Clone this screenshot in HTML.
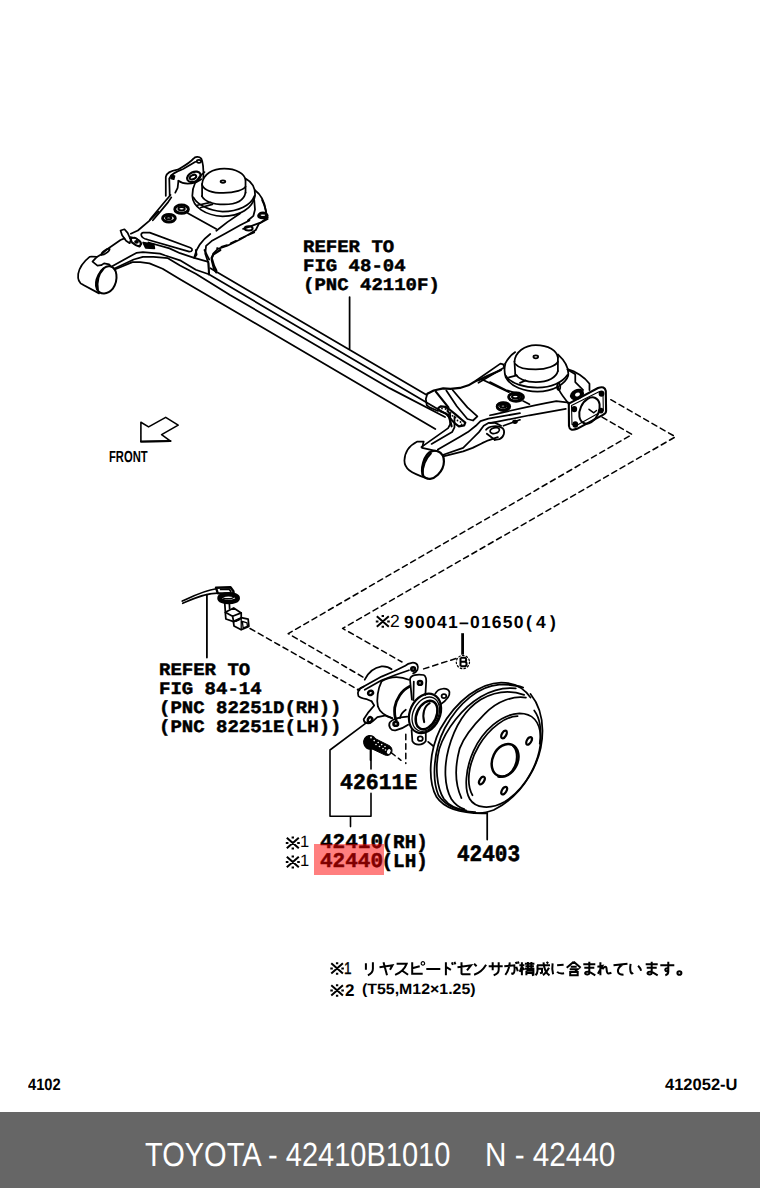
<!DOCTYPE html>
<html><head><meta charset="utf-8">
<style>
html,body{margin:0;padding:0;background:#fff;text-rendering:geometricPrecision;}
body{width:760px;height:1188px;position:relative;overflow:hidden;}
.t{position:absolute;white-space:pre;color:#000;line-height:1;}
.m{font-family:"Liberation Mono",monospace;font-weight:bold;font-size:19px;letter-spacing:0;-webkit-text-stroke:0.5px #000;transform:scaleY(0.88);transform-origin:0 0;}
.s{font-family:"Liberation Sans",sans-serif;}
#bar{position:absolute;left:0;top:1112px;width:760px;height:76px;background:#666666;}
#bar span{position:absolute;top:0;white-space:pre;color:#fff;font-family:"Liberation Sans",sans-serif;font-size:33.5px;line-height:76px;transform-origin:0 0;}
#b1{left:145px;top:5.5px!important;transform:scaleX(0.866);}
#b2{left:485px;top:5.5px!important;transform:scaleX(0.886);}
svg{position:absolute;left:0;top:0;}
svg path,svg ellipse,svg line,svg polyline,svg circle{vector-effect:non-scaling-stroke;}
</style></head><body>

<svg width="760" height="1188" viewBox="0 0 760 1188" fill="none" stroke="#000" stroke-width="1.75" stroke-linejoin="round" stroke-linecap="round">
<!-- DRAWING -->
<g stroke="#000" stroke-width="2" fill="none" stroke-linecap="butt" stroke-linejoin="miter">
<path transform="translate(362.9 960.8)" d="M3 2.5 L3 9 M10 1.5 L10 8 C10 11 8.5 13 5 14.5"/>
<path transform="translate(378.5 960.8)" d="M1 6.5 L14 4.5 L11.5 9 M5 1.5 L8.5 14.5"/>
<path transform="translate(394.1 960.8)" d="M2.5 3 L12.5 3 C11 7 7 11.5 1 14 M7.5 9.5 L14 14"/>
<path transform="translate(409.7 960.8)" d="M2.5 1.5 L2.5 13 L13 13 M2.5 7.5 L10 5.5"/>
<path transform="translate(409.7 960.8)" d="M13.2 2.6 m-1.7 0 a1.7 1.7 0 1 0 3.4 0 a1.7 1.7 0 1 0 -3.4 0" stroke-width="1.2"/>
<path transform="translate(425.3 960.8)" d="M1 8.2 L15 8.2"/>
<path transform="translate(440.9 960.8)" d="M5 1.5 L5 14.5 M5 6 L10 9 M11 1.5 L12 4 M13.5 1 L14.5 3.5"/>
<path transform="translate(456.5 960.8)" d="M1 6.5 L14.5 4.5 L10.5 9.5 M5 1.5 L5 12.5 C5 13.5 6 13.5 7 13.5 L14 13.5"/>
<path transform="translate(472.1 960.8)" d="M2 3 L4.5 5.5 M2 14 C7 12.5 11 9 14 4"/>
<path transform="translate(487.7 960.8)" d="M1 5.5 L15 5.5 M5 1.5 L5 9.5 M11 1.5 L11 9 C11 12 9 13.5 6 14.5"/>
<path transform="translate(503.3 960.8)" d="M1 5.5 L11 4.5 C11.5 8 11.5 12 9.5 13 L8 12.5 M6.5 1.5 C6 7 4.5 11 2 14 M13 6 L14.5 10.5 M12.5 1 L13.3 3.2 M14.6 0.7 L15.4 2.9"/>
<path transform="translate(518.9 960.8)" d="M0.5 4.5 L5.5 4.5 M3 1.5 L3 14.5 M3 5.5 L0.8 11 M3 6 L5.5 9 M6 3 L15.5 3 M6.5 5.5 L15 5.5 M6 8 L15.5 8 M9 1.2 L9 8 M12.5 1.2 L12.5 8 M7.5 10 L7.5 14.5 M7.5 10 L14.5 10 L14.5 14 L13 14.5 M7.5 12.2 L14.5 12.2"/>
<path transform="translate(534.5 960.8)" d="M2.5 4.5 L15.5 4.5 M3 4.5 L3 10 C3 12 2.5 13 1 14.5 M3 8 L7.5 8 L7.5 12 L5.5 12.5 M9 1.5 C9.5 8 11 12 15 14.5 M14.5 7 C13 10 11 12.5 8.5 14.5 M12 1.2 L13.8 2.6"/>
<path transform="translate(550.1 960.8)" d="M2.5 2.5 C2 6 2 10 3 13.5 M7 4.5 L13.5 4 M7 11 C8 12.5 10 13 14 12.5"/>
<path transform="translate(565.7 960.8)" d="M8 1 L1 7 M8 1 L15 7 M5 6 L11 6 M4 8.5 L12 8.5 L9.5 10.5 M4.5 11.2 L4.5 14.5 L12 14.5 L12 11.2 Z"/>
<path transform="translate(581.3 960.8)" d="M2 3.5 L14 3.5 M3 7 L13 7 M8 1 L8 12.5 C8 14 5 14 4 13 C3 11.5 6 10 9 11.5 L14 14.5"/>
<path transform="translate(596.9 960.8)" d="M3.5 1.5 L3.5 14.5 M0.5 6 L5.5 5 L1 13 M5.5 8.5 C7 6 9 5 9.5 7 C10 9 9.5 12 11 12.5 C12 13 13 12.5 14.5 12"/>
<path transform="translate(612.5 960.8)" d="M1 4.5 L15 3 M10 3.8 C6.5 6 5 8 5.5 11 C6 13 8 14 11 14"/>
<path transform="translate(628.1 960.8)" d="M2.5 3 C2 6 2 10 3 12 C3.5 13 4 13 5 12 M10 5 C11.5 6.5 12.5 8 13 10"/>
<path transform="translate(643.7 960.8)" d="M2 3.5 L14 3.5 M3 7 L13 7 M8 1 L8 12.5 C8 14 5 14 4 13 C3 11.5 6 10 9 11.5 L14 14.5"/>
<path transform="translate(659.3 960.8)" d="M1 4.5 L15 4.5 M9 1 L9 11 C9 13 8 14 6 14.5 M9 7.5 C7 7 5.5 8 6 9.5 C6.5 11 8.5 10.5 9 9"/>
<path transform="translate(674.9 960.8)" d="M4.5 12.2 m-2 0 a2 1.8 0 1 0 4 0 a2 1.8 0 1 0 -4 0"/>
<path transform="translate(330.3 962.4) scale(0.97)" d="M1 1 L13 11.5 M13 1 L1 11.5 M5.8 0.8 L8.2 0.8 M5.8 11.6 L8.2 11.6 M0 6.2 L2.6 6.2 M11.4 6.2 L14 6.2"/>
<path transform="translate(330.3 984.4) scale(0.97)" d="M1 1 L13 11.5 M13 1 L1 11.5 M5.8 0.8 L8.2 0.8 M5.8 11.6 L8.2 11.6 M0 6.2 L2.6 6.2 M11.4 6.2 L14 6.2"/>
<path transform="translate(285.8 836.8) scale(1.0)" d="M1 1 L13 11.5 M13 1 L1 11.5 M5.8 0.8 L8.2 0.8 M5.8 11.6 L8.2 11.6 M0 6.2 L2.6 6.2 M11.4 6.2 L14 6.2"/>
<path transform="translate(285.8 855.8) scale(1.0)" d="M1 1 L13 11.5 M13 1 L1 11.5 M5.8 0.8 L8.2 0.8 M5.8 11.6 L8.2 11.6 M0 6.2 L2.6 6.2 M11.4 6.2 L14 6.2"/>
<path transform="translate(375.8 615.2) scale(1.0)" d="M1 1 L13 11.5 M13 1 L1 11.5 M5.8 0.8 L8.2 0.8 M5.8 11.6 L8.2 11.6 M0 6.2 L2.6 6.2 M11.4 6.2 L14 6.2"/>
</g>

<!-- ===== A: left mount top [150,150] s=6.333 ===== -->
<g transform="translate(150 150) scale(0.157895)">
<path d="M330 215 C335 150 400 118 470 118 C545 118 600 150 605 190"/>
<path d="M330 222 C345 255 400 272 465 272 C540 272 595 250 605 232"/>
<path d="M330 215 L330 292 M605 190 L605 270"/>
<path d="M328 292 C350 330 410 345 470 345 C545 345 595 320 605 270"/>
<ellipse cx="462" cy="200" rx="15" ry="8"/>
<path d="M345 140 C290 180 268 225 268 290 C270 360 350 415 460 420 C570 420 650 370 665 290 C668 240 650 205 605 180"/>
<path d="M275 300 C300 345 370 385 460 390 C560 390 640 350 662 290"/>
<path d="M300 350 L385 332 M322 364 L395 344"/>
<path d="M665 255 C700 280 725 320 735 390"/>
<ellipse cx="715" cy="410" rx="22" ry="14" stroke-width="2"/>
<path d="M745 428 L700 460 L640 482 L590 500"/>
<path d="M100 290 L100 170 C105 145 130 132 175 125 C210 105 250 85 275 55 C285 42 310 38 325 55 C335 75 340 110 338 180"/>
<path d="M125 290 L122 180 C128 155 160 140 210 120 C245 100 270 85 288 75"/>
<ellipse cx="310" cy="72" rx="14" ry="10"/>
<ellipse cx="278" cy="170" rx="45" ry="30" transform="rotate(-25 278 170)" stroke-width="2.2"/>
<ellipse cx="272" cy="172" rx="22" ry="13" transform="rotate(-25 272 172)" stroke-width="2"/>
<path d="M135 160 L155 165 L150 185 L133 180 Z" fill="#000"/>
<path d="M180 195 C200 210 240 218 290 205 L325 185"/>
<path d="M180 195 L175 240 L160 270"/>
<path d="M0 440 L50 380 L100 320 L130 285"/>
<path d="M18 445 L65 390 L115 330 L135 300"/>
<ellipse cx="200" cy="375" rx="43" ry="26" stroke-width="3"/>
<ellipse cx="200" cy="372" rx="20" ry="11" stroke-width="2"/>
<ellipse cx="120" cy="432" rx="40" ry="24" stroke-width="3"/>
<ellipse cx="118" cy="430" rx="17" ry="9" stroke-width="2"/>
<path d="M240 400 L420 500"/>
</g>
<!-- ===== B: left bushing [70,210] s=6.333 ===== -->
<g transform="translate(70 210) scale(0.157895)">
<path d="M250 355 C300 365 310 440 270 500 C240 535 190 540 170 500 C150 450 190 360 250 355 Z" stroke-width="2"/>
<path d="M262 360 L247.6 345 L215.6 338 L197.6 349.6 L174 352 L142.5 326.6 L170 297 L137.6 294.5 L124 297 C95 320 60 360 52 405 C48 440 60 465 82 473 L184 528"/>
<path d="M212 372 C185 400 168 450 176 505" stroke-width="2.2"/>
<path d="M170 297 L200 280 L240 245 L320 190 L345 180"/>
<path d="M385 150 L430 130 L500 70 L560 10"/>
<path d="M200 285 C195 270 230 245 250 245 C255 255 230 280 200 285 Z"/>
<path d="M320 130 L345 122 L365 145 L385 190 L378 210 L355 195 L330 160 Z"/>
<path d="M380 180 L410 175 L440 195 L452 215 L440 232 L420 225 L395 205"/>
</g>
<!-- ===== C: slot & beam start [130,230] s=7.6 ===== -->
<g transform="translate(130 230) scale(0.131579)">
<path d="M100 20 L150 20 L460 135 C480 145 475 165 450 165 L130 72 C80 60 75 25 100 20 Z"/>
<path d="M100 95 L180 110 L185 140 L120 135 Z" fill="#000"/>
<path d="M490 205 C500 150 530 90 610 30"/>
</g>
<!-- ===== D: flange right [180,200] s=6.333 ===== -->
<g transform="translate(180 200) scale(0.157895)">
<path d="M470 0 L475 60 L465 100 L430 130"/>
<path d="M520 0 C535 30 545 70 550 100"/>
<ellipse cx="525" cy="100" rx="30" ry="15" stroke-width="2"/>
<ellipse cx="435" cy="180" rx="25" ry="13" stroke-width="2"/>
<path d="M380 85 L300 140 L230 195"/>
<path d="M440 130 L380 160 L290 210 L200 260 L165 290 L160 340 L180 400 L185 470"/>
<path d="M555 120 L500 150 L480 190 L440 215 L380 250 L300 290 L240 310 L210 340 L200 380 L215 440 L230 460"/>
<path d="M470 205 L380 245 L300 285 L235 305" stroke-dasharray="6 4"/>
</g>
<!-- ===== E: beam lines (absolute) ===== -->
<!-- beam abs -->
<path d="M130.5 237 L136 238.2 L140.8 242.1 L140 246 L136 245.3 L132 242.9 Z" stroke-width="1.6"/>
<ellipse cx="136.5" cy="241.8" rx="1.5" ry="1" fill="#000"/>
<path d="M112.6 266 L136.3 252.9 L142.9 252.2 L160 253.6 L165.3 255.5 L180 260.3 L195.8 269.7 L208.8 274.3 L447 414.5"/>
<path d="M114 268.7 L133.7 259.5 L142.9 256.8 L153.4 256.8 L167.9 258.2 L180 265.4 L195.8 273.7 L230 294.9 L390 388.4 L445 417"/>
<path d="M115.3 269.3 L132.4 262.1 L140.3 262.1 L149.5 263.4 L162.6 268.7 L180 279.2 L230 308.4 L435.3 429"/>
<path d="M426.3 394.7 L210.4 268.2"/>
<path d="M216.3 270.5 L214 265.8 L211.6 257.9 L213.2 254.7 L220.3 250" stroke-width="2.2"/>
<path d="M148.4 242.5 L169.5 248.4 L180 253.2 L194.2 257.9 L208.4 261.8 L208.8 274.5"/>
<path d="M195.8 250 L196.6 254.7 L194.2 257.9"/>
<path d="M204.5 250 L207.6 256.3 L209.2 259.5"/>

<path d="M349.6 297 L349.6 348.7"/>
<!-- ===== F: right arm ===== -->
<path d="M427.4 393.7 L433.7 390.5 L443.2 388.4 L450.5 388.9 L460 387.9 L468.4 385.3 L475.8 381 L479 380 L488.4 375.5 L501 370" stroke-width="2.1"/>
<path d="M427.4 393.7 L425.8 398.9 L426.8 405.3 L429.5 407.4 L438 411"/>
<path d="M435.8 391.6 L448.4 407.4" stroke-width="2.2"/>
<path d="M446.3 390.5 L456.8 406.3 L467.4 419 L473 420.5 L477.4 416.3 L467.4 407.4 L452.6 390"/>
<path d="M438.4 407.9 L441 406.3 L445.3 406.8 L449.5 409.5 L455.8 414.7 L462.1 420 L465.3 422.6 L464.2 425.3 L458.9 426.3 L455.8 424.2 L451.6 420 L446.3 413.7 L441 411.6 L438.4 409.5 Z" stroke-width="2.2"/>
<g fill="#000" stroke="none"><circle cx="442" cy="408.6" r="0.9"/><circle cx="445.5" cy="409" r="0.9"/><circle cx="447.5" cy="411.5" r="0.9"/><circle cx="450.5" cy="413" r="0.9"/><circle cx="452.5" cy="415.8" r="0.9"/><circle cx="455.5" cy="417.5" r="0.9"/><circle cx="457.5" cy="420.5" r="0.9"/><circle cx="460.5" cy="422" r="0.9"/><circle cx="461.5" cy="424.3" r="0.8"/></g>
<path d="M448.4 414.7 L450.5 422.1 L451.6 426.3" stroke-width="2.2"/>
<g transform="translate(400 410) scale(0.157895)">
<path d="M240 262 C292 285 290 360 240 410 C210 440 170 445 150 420 C125 380 150 280 200 262 C215 257 230 257 240 262 Z" stroke-width="2.2"/>
<path d="M195 275 C162 305 140 360 143 412" stroke-width="2.2"/>
<path d="M240 262 L140 240 L150 200 L110 200 C70 220 30 260 28 320 C28 370 60 395 175 435"/>
<path d="M135 235 L305 115 L318 90 L318 30 L300 0"/>
<path d="M200 215 L330 140 L345 110 L345 40"/>
<path d="M240 250 L380 170 L430 140 L480 100 L510 70 L560 55 L760 20"/>
<path d="M270 285 L400 240 L450 190 L500 140 L530 100 L560 82 L600 80 L640 100"/>
<path d="M280 292 L400 262 L460 240 L520 210 L560 192 L620 172"/>
<path d="M545 125 C560 100 620 95 650 115 C668 135 660 170 630 185 L600 190"/>
<ellipse cx="600" cy="130" rx="30" ry="18" transform="rotate(-15 600 130)"/>
<path d="M550 150 L600 188"/>
<ellipse cx="728" cy="75" rx="12" ry="8"/>
<path d="M655 100 L760 62"/>
</g>
<g transform="translate(400 370) scale(0.157895)">
<path d="M520 60 L690 140"/>
<ellipse cx="730" cy="170" rx="40" ry="25" stroke-width="2.2"/>
<ellipse cx="730" cy="168" rx="20" ry="11"/>
<ellipse cx="650" cy="230" rx="35" ry="22" stroke-width="2.2"/>
<ellipse cx="650" cy="228" rx="17" ry="10"/>
</g>
<!-- ===== G: right mount top [490,330] s=6.333 ===== -->
<g transform="translate(490 330) scale(0.157895)">
<path d="M155 200 C160 140 220 95 290 95 C370 95 425 130 430 175"/>
<path d="M160 215 C180 240 230 250 290 250 C360 250 420 225 430 200"/>
<path d="M155 200 L160 280 M430 170 L430 260"/>
<path d="M160 280 C190 320 240 330 290 330 C370 330 420 300 430 260"/>
<ellipse cx="290" cy="170" rx="15" ry="9"/>
<path d="M97 215 C90 240 90 270 100 300 C130 360 220 390 300 390 C400 390 480 340 495 290 C500 250 490 210 430 155"/>
<path d="M100 290 C130 340 220 365 300 365 C390 365 460 330 490 285"/>
<path d="M120 300 L170 288 M190 335 L225 320"/>
<path d="M-88 320 L66 213 L84 218 L90 238 L-73 334"/>
<path d="M95 215 C112 182 132 158 160 140"/>
<path d="M0 330 L100 380 L200 410"/>
<ellipse cx="165" cy="425" rx="48" ry="27" stroke-width="2.6"/>
<ellipse cx="165" cy="422" rx="25" ry="12"/>
<ellipse cx="85" cy="485" rx="40" ry="25" stroke-width="2.8"/>
<ellipse cx="85" cy="482" rx="18" ry="10"/>
<path d="M210 450 L250 470"/>
<path d="M495 250 C540 260 600 300 630 340 L630 380"/>
<path d="M430 360 C440 400 480 440 500 470"/>
<ellipse cx="435" cy="360" rx="10" ry="20"/>
<path d="M490 250 L540 280 L540 330 L590 380"/>
<path d="M0 540 C100 520 250 480 420 450 L500 460"/>
<path d="M0 590 L250 540 L480 500"/>
<ellipse cx="160" cy="580" rx="8" ry="6"/>
</g>
<!-- bolt abs -->
<path d="M372 737 L389 745.5 C392 747 393 751 391 753.5 C389.5 755.5 387 756 385 755 L368 747 Z" fill="#000" stroke-width="1"/>
<ellipse cx="370" cy="742.4" rx="6.9" ry="7.5" transform="rotate(-10 370 742.4)" fill="#000" stroke="none"/>
<g fill="#fff" stroke="none">
<circle cx="374.2" cy="740.6" r="0.8"/><circle cx="376" cy="744.5" r="0.8"/><circle cx="378.2" cy="742.5" r="0.8"/>
<circle cx="379.5" cy="746.5" r="0.8"/><circle cx="381.7" cy="744.6" r="0.8"/><circle cx="383" cy="748.5" r="0.8"/>
<circle cx="385" cy="746.5" r="0.8"/><circle cx="385.5" cy="750" r="0.8"/><circle cx="371" cy="737.5" r="0.9"/>
<ellipse cx="388.8" cy="751.5" rx="1.8" ry="2.6" transform="rotate(25 388.8 751.5)"/>
</g>
<!-- plate abs -->
<path d="M568.8 403.6 L598 388 Q604.7 385.5 605.8 391 L606.1 411 Q606 413.5 603 414.8 L577 428.8 Q569.5 431.5 569 426 Z" stroke-width="2.1"/>
<path d="M571.5 405.5 L599.5 391.5 L603 393 L603.3 410.5 L576.5 425.5 L572 424.5 Z" stroke-width="1.1"/>
<ellipse cx="574.3" cy="409.1" rx="2" ry="2.3" fill="#000"/>
<ellipse cx="601.5" cy="393.6" rx="2" ry="2.3" fill="#000"/>
<ellipse cx="601" cy="410.6" rx="1.8" ry="2" fill="#000"/>
<ellipse cx="575.3" cy="424.5" rx="2" ry="2.3" fill="#000"/>
<ellipse cx="589.5" cy="410.5" rx="9.3" ry="13.8" transform="rotate(25 589.5 410.5)" stroke-width="2"/>
<path d="M589 409.3 L593.8 412.8 L596.5 410.5" stroke-width="1.5"/>
<ellipse cx="577" cy="394.5" rx="6.5" ry="4.4" transform="rotate(-25 577 394.5)" fill="#000"/>
<ellipse cx="577.5" cy="394.5" rx="2.6" ry="1.8" transform="rotate(-25 577.5 394.5)" fill="#fff" stroke="none"/>
<!-- ===== H: dashed lines (absolute) ===== -->
<g stroke-dasharray="5.5 4" stroke-width="1.5">
<path d="M610.8 399.7 L675.5 436.8 L342.6 628.4 L402 662"/>
<path d="M602.1 417.1 L632.1 434.5 L288.2 633.6 L365.8 678.7"/>
<path d="M250 628.5 L359.5 690.5"/>
<path d="M456 658.5 L422.6 669.2"/>
<path d="M390.8 752.4 L401 760.3"/>
<path d="M405.8 734.2 L405.8 763.4"/>
</g>
<!-- ===== I: hub [350,640] s=6.333 ===== -->
<g transform="translate(350 640) scale(0.157895)">
<path d="M540 340 C560 300 620 300 630 330 C635 360 600 390 570 410"/>
<ellipse cx="595" cy="355" rx="15" ry="13"/>
<path d="M390 570 L395 640 C410 670 460 670 480 640 L480 590"/>
<ellipse cx="445" cy="625" rx="16" ry="14"/>
<ellipse cx="475" cy="465" rx="95" ry="130" transform="rotate(25 475 465)" stroke-width="2.2"/>
<ellipse cx="485" cy="475" rx="62" ry="95" transform="rotate(25 485 475)" stroke-width="2.5"/>
<ellipse cx="480" cy="470" rx="80" ry="114" transform="rotate(25 480 470)" stroke-width="1.3"/>
<path d="M470 520 C455 470 470 420 505 400" stroke-width="2"/>
<path d="M495 645 L525 670"/>
<path d="M130 700 L130 760"/>
</g>
<!-- hub rear (9.5) -->
<g transform="translate(350 655) scale(0.105263)">
<path d="M140 235 C170 170 230 120 300 108 C340 105 370 115 395 135"/>
<path d="M75 330 L130 300 L300 205 L420 155 L520 105 C560 70 620 60 640 95 C655 125 640 160 600 175"/>
<path d="M140 330 L300 240 L430 190 L560 145"/>
<path d="M130 300 C80 315 65 360 80 390 C95 410 130 415 160 420 L205 440"/>
<ellipse cx="195" cy="360" rx="24" ry="20" transform="rotate(-30 195 360)" stroke-width="2.5"/>
<path d="M205 440 L230 480 L170 550 L130 610 C130 650 180 665 220 625 L260 590 L330 575 L400 600"/>
<ellipse cx="190" cy="615" rx="19" ry="25" transform="rotate(30 190 615)" stroke-width="2.5"/>
<ellipse cx="600" cy="133" rx="18" ry="16" stroke-width="2.5"/>
<path d="M300 250 C265 320 250 420 265 490 C285 550 340 580 400 600"/>
<path d="M300 250 C360 215 450 190 560 235"/>
<path d="M565 300 C490 335 440 420 425 500 C420 550 425 590 440 625" stroke-width="2.8"/>
<path d="M530 520 C500 540 480 570 475 600"/>
<path d="M588 425 L570 230 C575 190 640 178 700 190 C722 200 727 240 722 280 L716 380"/>
<path d="M602 428 L606 252"/>
<ellipse cx="665" cy="265" rx="20" ry="18" stroke-width="2.5"/>
<path d="M545 585 C480 590 405 600 378 640 C360 680 390 722 432 716 C480 705 520 685 552 662"/>
<ellipse cx="435" cy="655" rx="22" ry="18" stroke-width="2.5"/>
</g>
<!-- ===== J: drum [420,670] s=5.4286 ===== -->
<g transform="translate(420 670) scale(0.184211)">
<path d="M600 150 C560 90 510 68 440 68 C330 70 200 160 110 320 C50 440 40 600 90 690 C130 750 210 782 360 778"/>
<path d="M560 95 C520 80 480 78 430 80 C325 88 215 170 135 315 C75 430 62 590 100 680 C140 740 210 768 300 772"/>
<path d="M520 100 C470 95 400 105 330 145 C230 205 140 320 105 427 C80 520 90 640 130 700 C160 740 200 755 250 762"/>
<path d="M565 135 C500 112 420 110 330 160 C250 210 190 300 155 427 C130 520 130 630 170 700 C190 730 210 745 240 755"/>
<path d="M575 150 C510 140 420 165 350 240 C290 300 240 360 215 427 C190 520 190 620 225 695"/>
<path d="M600 130 C640 180 665 250 665 330 C665 500 560 680 400 760 C360 775 320 778 300 775"/>
<path d="M620 220 C650 260 660 330 650 400"/>
<path d="M540 235 C610 235 650 280 655 360 C660 480 580 640 460 715 C380 760 300 750 270 700 C240 650 245 540 290 440 C340 330 440 240 540 235 Z"/>
<path d="M530 250 C470 250 380 310 320 410 C260 510 250 620 285 680"/>
<ellipse cx="462" cy="490" rx="68" ry="92" transform="rotate(25 462 490)" stroke-width="2.5"/>
<path d="M505 412 C532 440 535 500 500 548 C478 572 450 584 425 580" stroke-width="2"/>
<ellipse cx="456" cy="350" rx="12" ry="23" transform="rotate(30 456 350)" stroke-width="2.2"/>
<ellipse cx="592" cy="385" rx="12" ry="23" transform="rotate(30 592 385)" stroke-width="2.2"/>
<ellipse cx="336" cy="600" rx="12" ry="23" transform="rotate(30 336 600)" stroke-width="2.2"/>
<ellipse cx="457" cy="655" rx="12" ry="23" transform="rotate(30 457 655)" stroke-width="2.2"/>
</g>
<path d="M487.2 812.8 L487.2 839.5"/>
<!-- ===== K: sensor [170,575] s=6.909 ===== -->
<g transform="translate(170 575) scale(0.144737)">
<path d="M85 180 C150 150 240 105 320 95"/>
<path d="M88 195 C160 165 240 125 330 125"/>
<path d="M318 88 L418 85 L438 112 L440 130 L330 126 Z" stroke-width="2.4"/>
<path d="M350 100 L410 98 L420 115"/>
<ellipse cx="405" cy="160" rx="63" ry="27" stroke-width="4.5"/>
<ellipse cx="400" cy="152" rx="38" ry="12" stroke-width="1.5"/>
<path d="M378 190 L382 250 M410 195 L412 232"/>
<path d="M382 258 L440 228 L492 262 L492 300 L440 322 L386 304 Z"/>
<path d="M382 258 L432 285 L492 262 M432 285 L440 322"/>
<path d="M438 322 L492 295 L540 305 L545 355 L492 378 L442 352 Z"/>
<path d="M492 300 L492 378 M455 320 L480 308 M500 320 L532 330 L535 355 L505 365 Z" stroke-width="1.3"/>
<path d="M255 135 L255 570" stroke-width="1.8"/>
</g>
<!-- ===== arrow ===== -->
<path d="M140.9 422.2 L148.6 426.9 L165.7 417.4 L178.2 425.1 L161.6 434.6 L170.5 441.1 L140.9 441.7 Z" stroke-width="1.6"/>
<path d="M141 441.5 L170.5 441" stroke-width="2"/>
<!-- ===== leaders ===== -->
<path d="M330 750 L367.9 721.6 M330 750 L330 816.3 L371 816.3 L371 793.4 M371 769 L371 748.4 M350.5 816.3 L350.5 826.6" stroke-width="1.6"/>
<path d="M462.6 633.2 L462.6 654.7" stroke-width="2.8" stroke-linecap="butt"/>
<circle cx="462.9" cy="662.1" r="6.6" stroke-width="1.2" stroke-dasharray="1.6 2.2"/>
<path d="M460.5 657.8 L460.5 666.2 M460.5 657.8 L464.3 657.8 C466.8 657.8 466.8 661.8 464.3 661.8 L460.5 661.8 M464.5 661.8 C467.3 661.8 467.3 666.2 464.5 666.2 L460.5 666.2" stroke-width="2" stroke-linecap="butt"/>
</svg>

<!-- texts -->
<div class="t m" style="left:303px;top:239px;transform:scaleY(0.92)">REFER TO</div>
<div class="t m" style="left:303px;top:258px;transform:scaleY(0.92)">FIG 48-04</div>
<div class="t m" style="left:303px;top:277px;transform:scaleY(0.92)">(PNC 42110F)</div>

<div class="t m" style="left:159px;top:662px;transform:scaleY(0.92)">REFER TO</div>
<div class="t m" style="left:159px;top:681px;transform:scaleY(0.92)">FIG 84-14</div>
<div class="t m" style="left:159px;top:700px;transform:scaleY(0.92)">(PNC 82251D(RH))</div>
<div class="t m" style="left:159px;top:719px;transform:scaleY(0.92)">(PNC 82251E(LH))</div>

<div id="k2a" class="t s" style="left:390px;top:613px;font-size:17.5px">2</div>
<div class="t s" style="left:404px;top:614px;font-size:17.5px;font-weight:bold;letter-spacing:1.25px">90041–01650</div>
<div class="t s" style="left:526px;top:614px;font-size:17.5px;font-weight:bold;letter-spacing:4.2px">(4)</div>

<div class="t m" style="left:340px;top:773px;font-size:21.5px;transform:scaleY(1.04)">42611E</div>
<div class="t m" style="left:457px;top:844px;font-size:21px;transform:scaleY(1.12)">42403</div>

<div id="k1a" class="t s" style="left:300px;top:834px;font-size:16.5px">1</div>
<div class="t m" style="left:320px;top:832.5px;font-size:21px;transform:scaleY(1.0)">42410</div>
<div class="t m" style="left:381.5px;top:834px;font-size:19.3px;transform:scaleY(1.0)">(RH)</div>
<div id="k1b" class="t s" style="left:300px;top:853px;font-size:16.5px">1</div>
<div class="t m" style="left:320px;top:852px;font-size:21px;transform:scaleY(1.0)">42440</div>
<div class="t m" style="left:381.5px;top:853px;font-size:19.3px;transform:scaleY(1.0)">(LH)</div>
<div style="position:absolute;left:314px;top:844px;width:70px;height:31px;background:rgba(255,0,0,0.5)"></div>

<div id="k1c" class="t s" style="left:344px;top:960px;font-size:17px;transform:scaleX(0.8);transform-origin:0 0;-webkit-text-stroke:0.4px #000">1</div>
<div id="k2b" class="t s" style="left:345px;top:982px;font-size:17px;font-weight:bold">2</div>
<div id="j2" class="t s" style="left:362px;top:982px;font-size:15px;font-weight:bold;transform-origin:0 0;transform:scaleX(1.06)">(T55,M12×1.25)</div>

<div class="t s" style="left:28px;top:1077px;font-size:16.5px;font-weight:bold;transform:scaleX(0.89);transform-origin:0 0">4102</div>
<div class="t s" style="left:665px;top:1077px;font-size:16.5px;font-weight:bold">412052-U</div>
<div class="t s" style="left:109px;top:449.5px;font-size:16px;font-weight:bold;transform:scaleX(0.7);transform-origin:0 0">FRONT</div>

<div id="bar"><span id="b1">TOYOTA - 42410B1010</span><span id="b2">N - 42440</span></div>
</body></html>
